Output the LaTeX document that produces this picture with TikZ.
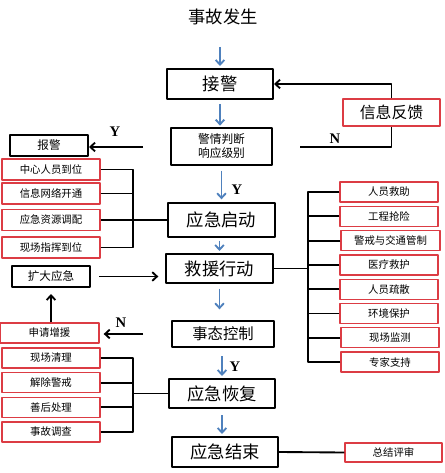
\documentclass[tikz,border=0pt]{standalone}
\usepackage{fontspec}
\setmainfont{Noto Sans CJK SC}
\newfontfamily\ynfont{Liberation Serif}
\usepackage{tikz}
\usetikzlibrary{arrows.meta}
\definecolor{flowblue}{HTML}{4F81BD}
\definecolor{boxred}{HTML}{DC3C44}
\tikzset{
  every picture/.style={line join=round, >={Straight Barb[length=3.5pt,width=6.5pt]}},
  mainbox/.style={draw, line width=1.5pt, fill=white, inner sep=0pt, font=\fontsize{13}{15}\selectfont},
  subbox/.style={draw=boxred, line width=1pt, fill=white, inner sep=0pt, font=\fontsize{7.8}{9}\selectfont},
  flow/.style={->, flowblue, line width=1.4pt},
  link/.style={line width=1.4pt},
  yn/.style={font=\ynfont\bfseries\fontsize{11}{13}\selectfont},
}

\begin{document}
\begin{tikzpicture}[x=0.75pt,y=-0.75pt]
\useasboundingbox (0,0) rectangle (444,473);
% main column
\node[font=\fontsize{13}{15}\selectfont] (title) at (223,17) {事故发生};
\node[mainbox,minimum width=79.5pt,minimum height=22.5pt] (jiejing) at (220,84) {接警};
\node[mainbox,minimum width=75.75pt,minimum height=27.75pt,align=center,font=\fontsize{8.8}{10.5}\selectfont] (panduan) at (221.5,146.5) {警情判断\\响应级别};
\node[mainbox,minimum width=80.25pt,minimum height=25.5pt] (qidong) at (221.5,220) {应急启动};
\node[mainbox,minimum width=80.25pt,minimum height=21.75pt] (xingdong) at (219.5,268.5) {救援行动};
\node[mainbox,minimum width=76.5pt,minimum height=19.5pt,font=\fontsize{11.5}{13}\selectfont] (kongzhi) at (223,334) {事态控制};
\node[mainbox,minimum width=79.5pt,minimum height=21.75pt] (huifu) at (222,393.5) {应急恢复};
\node[mainbox,minimum width=79.5pt,minimum height=22.5pt] (jieshu) at (225,452) {应急结束};

\draw[flow,shorten >=1.5pt] (jiejing.north |- 0,47) -- (jiejing.north);
\draw[flow,shorten <=3pt,shorten >=1pt] (jiejing.south) -- (jiejing.south |- panduan.north);
\draw[flow,shorten <=3.5pt,shorten >=2pt] (panduan.south) -- (panduan.south |- qidong.north);
\draw[flow,shorten <=2pt,shorten >=1.5pt] (xingdong.north |- qidong.south) -- (xingdong.north);
\draw[flow,shorten <=3.5pt,shorten >=8pt] (xingdong.south) -- (xingdong.south |- kongzhi.north);
\draw[flow,shorten <=6pt,shorten >=1.5pt] (huifu.north |- kongzhi.south) -- (huifu.north);
\draw[flow,shorten <=4.5pt,shorten >=1.5pt] (huifu.south) -- (huifu.south |- jieshu.north);
\node[yn] (y1) at (237,190) {Y};
\node[yn] (y2) at (235,367) {Y};

% feedback loop
\node[subbox,minimum width=72.75pt,minimum height=20.25pt,font=\fontsize{11.9}{13}\selectfont] (fankui) at (391.5,112.5) {信息反馈};
\coordinate (nstart) at (300,147);
\draw[link] (nstart) -- (nstart -| fankui.south) -- (fankui.south);
\draw[link,->] (fankui.north) |- (jiejing.east);
\node[yn] (n1) at (335,139) {N};

% alarm
\node[mainbox,minimum width=58.5pt,minimum height=15.75pt,font=\fontsize{8.7}{10}\selectfont] (baojing) at (49,145.5) {报警};
\coordinate (ystart) at (143,147);
\draw[link,->] (ystart) -- (ystart -| baojing.east);
\node[yn] (y0) at (115,132) {Y};

% start-up tasks
\node[subbox,minimum width=73.5pt,minimum height=15.75pt] (l1) at (51,169.5) {中心人员到位};
\node[subbox,minimum width=73.5pt,minimum height=15.75pt] (l2) at (51,193.5) {信息网络开通};
\node[subbox,minimum width=73.5pt,minimum height=15.75pt] (l3) at (51,220) {应急资源调配};
\node[subbox,minimum width=73.5pt,minimum height=15.75pt] (l4) at (51,247.5) {现场指挥到位};
\coordinate (lbar) at (133,220);
\draw[link] (l1.east) -| (lbar);
\draw[link] (l2.east) -- (l2.east -| lbar);
\draw[link] (l3.east) -- (lbar);
\draw[link] (l4.east) -| (lbar);
\draw[link] (lbar) -- (qidong.west);

% escalation
\node[mainbox,minimum width=58.5pt,minimum height=15.75pt,font=\fontsize{8.7}{10}\selectfont] (kuoda) at (51,276.5) {扩大应急};
\draw[link,->,shorten <=6pt,shorten >=5pt] (kuoda.east) -- (kuoda.east -| xingdong.west);
\node[subbox,minimum width=74.25pt,minimum height=15pt] (shenqing) at (49.5,333) {申请增援};
\draw[link,->,shorten >=4.5pt] (shenqing.north -| kuoda.south) -- (kuoda.south);
\coordinate (nstart2) at (143,334);
\draw[link,->,shorten >=3pt] (nstart2) -- (nstart2 -| shenqing.east);
\node[yn] (n2) at (121,323) {N};

% recovery tasks
\node[subbox,minimum width=73.5pt,minimum height=15pt] (r1) at (51,358) {现场清理};
\node[subbox,minimum width=73.5pt,minimum height=15pt] (r2) at (51,382.7) {解除警戒};
\node[subbox,minimum width=73.5pt,minimum height=15pt] (r3) at (51,407.3) {善后处理};
\node[subbox,minimum width=73.5pt,minimum height=15pt] (r4) at (51,432) {事故调查};
\coordinate (rbar) at (133,393.5);
\draw[link] (r1.east) -| (rbar);
\draw[link] (r2.east) -- (r2.east -| rbar);
\draw[link] (r3.east) -- (r3.east -| rbar);
\draw[link] (r4.east) -| (rbar);
\draw[link] (rbar) -- (huifu.west);

% rescue tasks
\node[subbox,minimum width=73.5pt,minimum height=15pt] (k1) at (389,192) {人员救助};
\node[subbox,minimum width=73.5pt,minimum height=15pt] (k2) at (389,216.3) {工程抢险};
\node[subbox,minimum width=74.25pt,minimum height=15pt] (k3) at (390.5,240.6) {警戒与交通管制};
\node[subbox,minimum width=73.5pt,minimum height=15pt] (k4) at (389,264.9) {医疗救护};
\node[subbox,minimum width=73.5pt,minimum height=15pt] (k5) at (389,289.2) {人员疏散};
\node[subbox,minimum width=73.5pt,minimum height=15pt] (k6) at (389,313.5) {环境保护};
\node[subbox,minimum width=73.5pt,minimum height=15pt] (k7) at (390,337.8) {现场监测};
\node[subbox,minimum width=73.5pt,minimum height=15pt] (k8) at (390,362.1) {专家支持};
\coordinate (kbar) at (308,268.5);
\draw[link] (k1.west) -| (kbar);
\draw[link] (k8.west) -| (kbar);
\draw[link] (k2.west) -- (k2.west -| kbar);
\draw[link] (k3.west) -- (k3.west -| kbar);
\draw[link] (k4.west) -- (k4.west -| kbar);
\draw[link] (k5.west) -- (k5.west -| kbar);
\draw[link] (k6.west) -- (k6.west -| kbar);
\draw[link] (k7.west) -- (k7.west -| kbar);
\draw[link] (xingdong.east) -- (kbar);

% review
\node[subbox,minimum width=72.75pt,minimum height=14.25pt] (zongjie) at (393.5,452.5) {总结评审};
\draw[link] (jieshu.east) -- (zongjie.west);
\end{tikzpicture}
\end{document}
